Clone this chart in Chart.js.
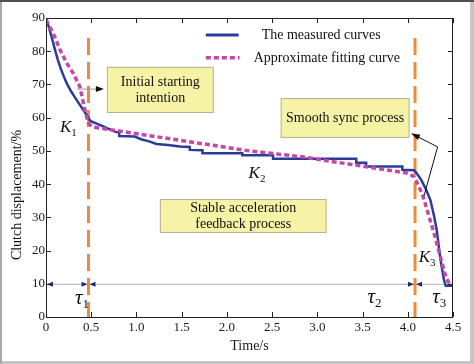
<!DOCTYPE html>
<html lang="en">
<head>
<meta charset="UTF-8">
<title>Clutch displacement</title>
<script src="https://cdn.jsdelivr.net/npm/chart.js"></script>
<style>
  body { margin: 0; padding: 0; background: #fff; }
  #wrap { width: 474px; height: 364px; }
</style>
</head>
<body>
<div id="wrap"><canvas id="myChart" width="474" height="364"></canvas></div>
<script>
// measured curve (time in s, displacement in %)
const measuredX = [0, 0.03, 0.06, 0.1, 0.13, 0.16, 0.2, 0.23, 0.28, 0.34, 0.4, 0.45, 0.49, 0.56, 0.62, 0.68, 0.76, 0.81, 0.81, 0.98, 1.05, 1.15, 1.22, 1.35, 1.48, 1.59, 1.59, 1.73, 1.73, 2.17, 2.17, 2.51, 2.51, 3.43, 3.43, 3.54, 3.54, 3.94, 3.94, 4.07, 4.1, 4.15, 4.2, 4.25, 4.29, 4.32, 4.36, 4.4, 4.42, 4.5];
const measuredY = [89.5, 87.5, 84.5, 80.4, 77.5, 75, 72.2, 70.3, 67.8, 65.3, 62.8, 60.8, 59, 58.2, 57.5, 56.8, 55.8, 55.5, 54.5, 54.3, 53.5, 52.8, 52.1, 51.8, 51.3, 51.2, 50.3, 50.2, 49.3, 49.3, 48.7, 48.7, 47.6, 47.6, 46.4, 46.4, 45.3, 45.3, 44.3, 44.2, 43.2, 41.2, 38.5, 35.2, 30.5, 26.2, 17.5, 11.2, 9.4, 9.4];

// approximate fitting curve
const fitX = [0, 0.08, 0.155, 0.23, 0.3, 0.375, 0.43, 0.467, 0.52, 0.85, 2.25, 2.81, 4.0, 4.07, 4.12, 4.17, 4.28, 4.37, 4.42, 4.46];
const fitY = [89.5, 85.4, 80.4, 76.4, 73.4, 69.3, 62.3, 58.3, 57.2, 55.8, 50.0, 48.3, 43.3, 42.2, 39.5, 36.2, 26.2, 17.2, 12.1, 10.0];

// stage boundaries tau1 / tau2 and the marker level
const tauX = [0.47, 4.08];
const tauTop = 84;
const markerY = 10;

const xTicks = [0, 0.5, 1, 1.5, 2, 2.5, 3, 3.5, 4, 4.5];
const yTicks = [0, 10, 20, 30, 40, 50, 60, 70, 80, 90];

const BLUE = '#2b3c98';
const MAGENTA = '#c448a8';
const ORANGE = '#f38a3a';
const SERIF = "'Liberation Serif', 'Times New Roman', serif";

Chart.defaults.font.family = SERIF;
Chart.defaults.color = '#1a1a1a';

const pts = (xs, ys) => xs.map((x, i) => ({ x: x, y: ys[i] }));

const datasets = [
  {
    label: 'Approximate fitting curve',
    data: pts(fitX, fitY),
    borderColor: MAGENTA,
    borderWidth: 3.5,
    borderDash: [5, 3],
    pointRadius: 0,
    tension: 0,
    order: 0
  },
  {
    label: 'The measured curves',
    data: pts(measuredX, measuredY),
    borderColor: BLUE,
    borderWidth: 2.5,
    pointRadius: 0,
    tension: 0,
    order: 1
  }
];
tauX.forEach(t => {
  datasets.push({
    label: 'tau',
    data: [{ x: t, y: tauTop }, { x: t, y: 0 }],
    borderColor: ORANGE,
    borderWidth: 3,
    borderDash: [17, 7],
    pointRadius: 0,
    order: 2
  });
});

function arrowHead(ctx, x, y, dx, dy, len, half, color) {
  const n = Math.hypot(dx, dy);
  const ux = dx / n, uy = dy / n;
  ctx.fillStyle = color;
  ctx.beginPath();
  ctx.moveTo(x, y);
  ctx.lineTo(x - ux * len - uy * half, y - uy * len + ux * half);
  ctx.lineTo(x - ux * len + uy * half, y - uy * len - ux * half);
  ctx.closePath();
  ctx.fill();
}

function subLabel(ctx, main, sub, x, y, size) {
  ctx.font = 'italic ' + size + 'px ' + SERIF;
  ctx.textAlign = 'left';
  ctx.textBaseline = 'alphabetic';
  ctx.fillStyle = '#111';
  ctx.fillText(main, x, y);
  const w = ctx.measureText(main).width;
  ctx.font = Math.round(size * 0.62) + 'px ' + SERIF;
  ctx.fillText(sub, x + w, y + 4);
}

function box(ctx, X, Y, x0, y0, x1, y1, lines, cy) {
  const l = X(x0), r = X(x1), t = Y(y0), b = Y(y1);
  ctx.fillStyle = '#f7f3a6';
  ctx.fillRect(l, t, r - l, b - t);
  ctx.strokeStyle = '#b4b09a';
  ctx.lineWidth = 1;
  ctx.strokeRect(l + 0.5, t + 0.5, r - l - 1, b - t - 1);
  ctx.fillStyle = '#111';
  ctx.font = '14px ' + SERIF;
  ctx.textAlign = 'center';
  ctx.textBaseline = 'middle';
  const mid = (l + r) / 2;
  const start = (t + b) / 2 - (lines.length - 1) * 8;
  lines.forEach((s, i) => ctx.fillText(s, mid, start + i * 16));
}

const extras = {
  id: 'extras',
  beforeDraw(chart) {
    const ctx = chart.ctx;
    ctx.save();
    ctx.fillStyle = '#fff';
    ctx.fillRect(0, 0, chart.width, chart.height);
    ctx.fillStyle = '#c6c6c6';
    ctx.fillRect(470, 0, 4, 364);
    ctx.fillRect(0, 361, 474, 3);
    ctx.fillStyle = '#a8a8a8';
    ctx.fillRect(0, 0, 2, 364);
    ctx.fillStyle = '#505050';
    ctx.fillRect(0, 0, 474, 2);
    ctx.restore();
  },
  beforeDatasetsDraw(chart) {
    const ctx = chart.ctx;
    const X = v => chart.scales.x.getPixelForValue(v);
    const Y = v => chart.scales.y.getPixelForValue(v);
    ctx.save();
    ctx.strokeStyle = '#aab2cc';
    ctx.lineWidth = 1;
    ctx.beginPath();
    ctx.moveTo(X(0), Y(markerY) + 0.5);
    ctx.lineTo(X(4.5), Y(markerY) + 0.5);
    ctx.stroke();
    ctx.restore();
  },
  afterDatasetsDraw(chart) {
    const ctx = chart.ctx;
    const X = v => chart.scales.x.getPixelForValue(v);
    const Y = v => chart.scales.y.getPixelForValue(v);
    const ym = Y(markerY) + 0.5;
    const navy = '#1c2a6e';
    ctx.save();
    // dimension arrows on the marker line
    arrowHead(ctx, X(0) + 1, ym, -1, 0, 6, 2.5, navy);
    arrowHead(ctx, X(tauX[0]) - 1, ym, 1, 0, 6, 2.5, navy);
    arrowHead(ctx, X(tauX[0]) + 1, ym, -1, 0, 6, 2.5, navy);
    arrowHead(ctx, X(tauX[1]) - 1, ym, 1, 0, 6, 2.5, navy);
    arrowHead(ctx, X(tauX[1]) + 1, ym, -1, 0, 6, 2.5, navy);

    // annotation boxes
    box(ctx, X, Y, 0.673, 75.3, 1.855, 61.4, ['Initial starting', 'intention']);
    box(ctx, X, Y, 2.595, 65.9, 4.02, 53.9, ['Smooth sync process']);
    box(ctx, X, Y, 1.259, 35.5, 3.103, 25.3, ['Stable acceleration', 'feedback process']);

    // pointer from first stage to its box
    ctx.strokeStyle = '#9a9a9a';
    ctx.lineWidth = 1;
    ctx.beginPath();
    ctx.moveTo(X(0.34), Y(68.6));
    ctx.lineTo(X(0.6), Y(68.6));
    ctx.stroke();
    arrowHead(ctx, X(0.64), Y(68.6), 1, 0, 8, 3, '#111');

    // pointers for the sync stage
    const px = X(4.33), py = Y(51.2);
    ctx.strokeStyle = '#111';
    ctx.beginPath();
    ctx.moveTo(px, py);
    ctx.lineTo(X(4.07), Y(54.8));
    ctx.moveTo(px, py);
    ctx.lineTo(X(4.18), Y(36.5));
    ctx.stroke();
    arrowHead(ctx, X(4.036), Y(55.3), X(4.036) - px, Y(55.3) - py, 9, 3, '#111');

    // slope and interval labels
    subLabel(ctx, 'K', '1', X(0.155), Y(55.7), 17);
    subLabel(ctx, 'K', '2', X(2.24), Y(41.8), 17);
    subLabel(ctx, 'K', '3', X(4.12), Y(16.6), 17);
    subLabel(ctx, '\u03c4', '1', X(0.32), Y(3.9), 21);
    subLabel(ctx, '\u03c4', '2', X(3.555), Y(4.2), 21);
    subLabel(ctx, '\u03c4', '3', X(4.27), Y(4.2), 21);

    // legend
    ctx.lineWidth = 3;
    ctx.strokeStyle = BLUE;
    ctx.setLineDash([]);
    ctx.beginPath();
    ctx.moveTo(X(1.767), Y(84.9));
    ctx.lineTo(X(2.13), Y(84.9));
    ctx.stroke();
    ctx.strokeStyle = MAGENTA;
    ctx.lineWidth = 3.5;
    ctx.setLineDash([5, 3]);
    ctx.beginPath();
    ctx.moveTo(X(1.767), Y(78));
    ctx.lineTo(X(2.14), Y(78));
    ctx.stroke();
    ctx.setLineDash([]);
    ctx.fillStyle = '#111';
    ctx.font = '14px ' + SERIF;
    ctx.textAlign = 'left';
    ctx.textBaseline = 'middle';
    ctx.fillText('The measured curves', X(2.385), Y(84.9));
    ctx.fillText('Approximate fitting curve', X(2.297), Y(78));
    ctx.restore();
  },
  afterDraw(chart) {
    const ctx = chart.ctx;
    const a = chart.chartArea;
    const X = v => chart.scales.x.getPixelForValue(v);
    const Y = v => chart.scales.y.getPixelForValue(v);
    ctx.save();
    ctx.strokeStyle = '#222';
    ctx.lineWidth = 1;
    ctx.strokeRect(a.left + 0.5, a.top + 0.5, a.right - a.left - 1, a.bottom - a.top);
    ctx.beginPath();
    xTicks.forEach(v => {
      const x = Math.round(X(v)) + 0.5;
      ctx.moveTo(x, a.bottom); ctx.lineTo(x, a.bottom - 5);
      ctx.moveTo(x, a.top); ctx.lineTo(x, a.top + 5);
    });
    yTicks.forEach(v => {
      const y = Math.round(Y(v)) + 0.5;
      ctx.moveTo(a.left, y); ctx.lineTo(a.left + 5, y);
      ctx.moveTo(a.right, y); ctx.lineTo(a.right - 5, y);
    });
    ctx.stroke();
    // y axis title
    ctx.translate(17, 195);
    ctx.rotate(-Math.PI / 2);
    ctx.fillStyle = '#111';
    ctx.font = '14px ' + SERIF;
    ctx.textAlign = 'center';
    ctx.textBaseline = 'middle';
    ctx.fillText('Clutch displacement/%', 0, 0);
    ctx.restore();
  }
};

new Chart(document.getElementById('myChart'), {
  type: 'line',
  data: { datasets: datasets },
  options: {
    responsive: false,
    animation: false,
    devicePixelRatio: 1,
    layout: { padding: { top: 18, right: 21, left: 0, bottom: 0 } },
    plugins: { legend: { display: false }, tooltip: { enabled: false } },
    scales: {
      x: {
        type: 'linear',
        min: 0,
        max: 4.5,
        afterBuildTicks: s => { s.ticks = xTicks.map(v => ({ value: v })); },
        afterFit: s => { s.height = 47; },
        grid: { display: false, drawTicks: false },
        border: { display: false },
        ticks: {
          padding: 3,
          font: { size: 13 },
          maxRotation: 0,
          callback: v => (v === 0 ? '0' : v.toFixed(1))
        },
        title: { display: true, text: 'Time/s', font: { size: 14 }, padding: { top: 0, bottom: 9 } }
      },
      y: {
        min: 0,
        max: 90,
        afterBuildTicks: s => { s.ticks = yTicks.map(v => ({ value: v })); },
        afterFit: s => { s.width = 46; },
        grid: { display: false, drawTicks: false },
        border: { display: false },
        ticks: { padding: 1, font: { size: 13 } }
      }
    }
  },
  plugins: [extras]
});
</script>
</body>
</html>
